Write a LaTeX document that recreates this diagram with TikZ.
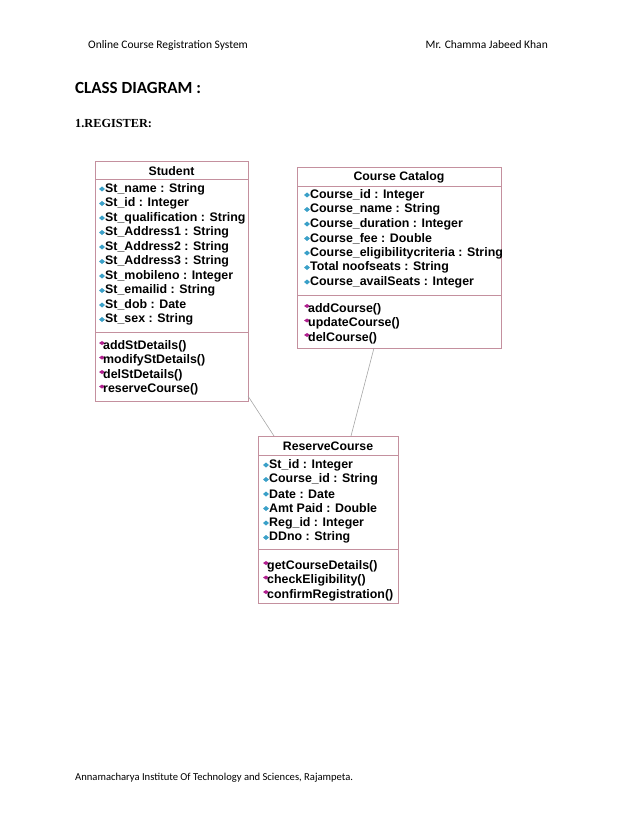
\documentclass[tikz,border=0pt]{standalone}
\usepackage{fontspec}
\setmainfont{Carlito}
\newfontfamily\arl{Liberation Sans}
\newfontfamily\tms{Liberation Serif}
\begin{document}
\begin{tikzpicture}[x=1pt,y=-1pt,
  box/.style={draw=bc,line width=0.7pt},
  ttl/.style={font=\arl\bfseries\fontsize{12.3}{13}\selectfont,anchor=center,inner sep=0},
  row/.style={font=\arl\bfseries\fontsize{12.4}{13}\selectfont,anchor=west,inner sep=0},
  lnk/.style={draw=gray!70,line width=0.6pt}]
\definecolor{bc}{HTML}{C4909E}
\definecolor{ac}{HTML}{3AA0C8}
\definecolor{mc}{HTML}{B0208F}
\newcommand{\attr}[3]{\fill[ac] (#1-3,#2) -- (#1,#2-2.5) -- (#1+3,#2) -- (#1,#2+2.5) -- cycle;
  \node[row] at (#1+3,#2) {#3};}
\newcommand{\meth}[3]{\fill[mc] (#1-3,#2-3) -- (#1,#2-5) -- (#1+3,#2-3) -- (#1,#2-1) -- cycle;
  \node[row] at (#1+1,#2) {#3};}
\useasboundingbox (0,0) rectangle (638,826);
\node[anchor=west,inner sep=0,font=\fontsize{11.5}{13}\selectfont] (h1) at (88,45) {Online Course Registration System};
\node[anchor=east,inner sep=0,font=\fontsize{11.5}{13}\selectfont] (h2) at (548,45) {Mr. Chamma Jabeed Khan};
\node[anchor=west,inner sep=0,font=\bfseries\fontsize{17}{19}\selectfont] (cd) at (75,88) {CLASS DIAGRAM :};
\node[anchor=west,inner sep=0,font=\tms\bfseries\fontsize{12.3}{13}\selectfont] (rg) at (75,124) {1.REGISTER:};
\node[anchor=west,inner sep=0,font=\fontsize{10.6}{13}\selectfont] (ft) at (75,778) {Annamacharya Institute Of Technology and Sciences, Rajampeta.};
% Student
\draw[box] (95,161) rectangle (248,401);
\draw[box] (95,179) -- (248,179) (95,332) -- (248,332);
\coordinate (S) at (248,396);
\node[ttl] (st) at (171.5,171) {Student};
\attr{102}{189}{St\_name : String}
\attr{102}{203.5}{St\_id : Integer}
\attr{102}{218}{St\_qualification : String}
\attr{102}{232.5}{St\_Address1 : String}
\attr{102}{247}{St\_Address2 : String}
\attr{102}{261.5}{St\_Address3 : String}
\attr{102}{276}{St\_mobileno : Integer}
\attr{102}{290.5}{St\_emailid : String}
\attr{102}{305}{St\_dob : Date}
\attr{102}{319.5}{St\_sex : String}
\meth{102}{346}{addStDetails()}
\meth{102}{360.5}{modifyStDetails()}
\meth{102}{375}{delStDetails()}
\meth{102}{389.5}{reserveCourse()}
% Course Catalog
\draw[box] (297,167) rectangle (501,348);
\draw[box] (297,186) -- (501,186) (297,295) -- (501,295);
\coordinate (C) at (374,348);
\node[ttl] (cc) at (399,177) {Course Catalog};
\attr{307}{195}{Course\_id : Integer}
\attr{307}{209.5}{Course\_name : String}
\attr{307}{224}{Course\_duration : Integer}
\attr{307}{238.5}{Course\_fee : Double}
\attr{307}{253}{Course\_eligibilitycriteria : String}
\attr{307}{267.5}{Total noofseats : String}
\attr{307}{282}{Course\_availSeats : Integer}
\meth{307}{309}{addCourse()}
\meth{307}{323.5}{updateCourse()}
\meth{307}{338}{delCourse()}
% ReserveCourse
\draw[box] (258,436) rectangle (398,603);
\draw[box] (258,455) -- (398,455) (258,549) -- (398,549);
\node[ttl] (rc) at (328,446) {ReserveCourse};
\coordinate (R1) at (274,436);
\coordinate (R2) at (351,436);
\attr{266}{465}{St\_id : Integer}
\attr{266}{479.5}{Course\_id : String}
\attr{266}{494}{Date : Date}
\attr{266}{508.5}{Amt Paid : Double}
\attr{266}{523}{Reg\_id : Integer}
\attr{266}{537.5}{DDno : String}
\meth{266}{566}{getCourseDetails()}
\meth{266}{580.5}{checkEligibility()}
\meth{266}{595}{confirmRegistration()}
\draw[lnk] (S) -- (R1);
\draw[lnk] (C) -- (R2);
\end{tikzpicture}
\end{document}
